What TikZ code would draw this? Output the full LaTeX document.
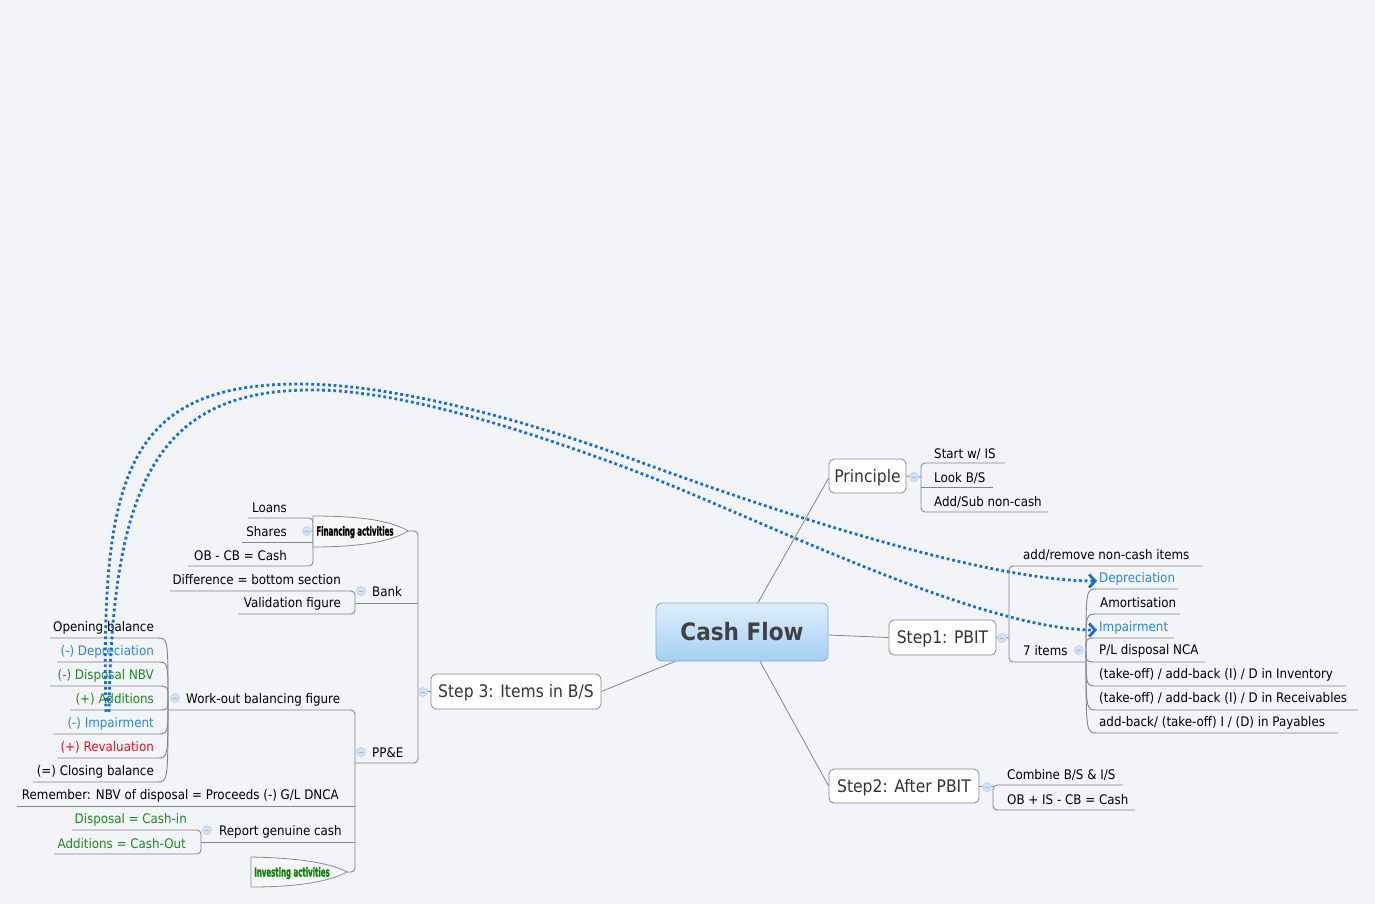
\documentclass[tikz,border=0pt]{standalone}
\usepackage{fontspec}
\setmainfont{DejaVu Sans}[FakeStretch=0.9]
\newfontfamily\condbold{DejaVu Sans}[FakeStretch=0.56, BoldFeatures={FakeBold=1.4}]
\usetikzlibrary{arrows.meta,calc}
\definecolor{bg}{HTML}{F2F4F8}
\definecolor{lnk}{HTML}{858585}
\definecolor{tblue}{HTML}{2A88E4}
\definecolor{tgreen}{HTML}{1E8A1E}
\definecolor{tred}{HTML}{E8141C}
\definecolor{arrowblue}{HTML}{1A6FCE}
\definecolor{cftop}{HTML}{DCEEFD}
\definecolor{cfbot}{HTML}{A6CFF5}
\definecolor{cfedge}{HTML}{86A9CB}
\definecolor{cftext}{HTML}{414141}
\definecolor{boxedge}{HTML}{8A8A8A}
\definecolor{topictext}{HTML}{333333}
\definecolor{circfill}{HTML}{D3E2F4}
\definecolor{circedge}{HTML}{B4CAE6}
\definecolor{circminus}{HTML}{98B6DC}
\definecolor{actfill}{HTML}{F7F7F7}
\definecolor{invgreen}{HTML}{0E7E0E}
\tikzset{
  lbl/.style={inner sep=0pt, font=\fontsize{13.2}{15}\selectfont, text height=9.6pt, text depth=0pt},
  L/.style={lbl, anchor=west},
  R/.style={lbl, anchor=east},
  ul/.style={draw=lnk, line width=0.9pt},
  brk/.style={ul, rounded corners=4pt},
  trunk/.style={draw=lnk, line width=0.8pt},
  topic/.style={draw=boxedge, fill=white, rounded corners=5pt, line width=0.8pt, inner sep=0pt,
    font=\fontsize{17.3}{19}\selectfont, text=topictext, text height=12.6pt, text depth=0pt},
  central/.style={draw=cfedge, top color=cftop, bottom color=cfbot, rounded corners=6pt, line width=0.8pt,
    inner sep=0pt, font=\bfseries\fontsize{24}{26}\selectfont, text=cftext, text height=17.5pt, text depth=0pt,
    minimum width=172pt, minimum height=58pt},
  collapse/.style={circle, minimum size=9pt, inner sep=0pt, fill=circfill, draw=circedge, line width=0.5pt,
    path picture={\draw[circminus, line width=0.8pt] ([xshift=-2.4pt]path picture bounding box.center) -- ([xshift=2.4pt]path picture bounding box.center);}},
  rel/.style={draw=arrowblue, line width=2.8pt, dash pattern=on 2.8pt off 2.8pt,
    -{Straight Barb[length=6pt,width=13pt,line width=2.8pt]}},
  actshape/.style={draw=boxedge, fill=actfill, line width=0.8pt},
  act/.style={inner sep=0pt, font=\condbold\bfseries\fontsize{12.5}{14}\selectfont, text height=9pt, text depth=0pt},
}
\begin{document}
\begin{tikzpicture}[x=1pt,y=-1pt]
\useasboundingbox (0,0) rectangle (1375,904);
\fill[bg] (0,0) rectangle (1375,904);

% ---------- main topics ----------
\node[central] (cf) at (742,632) {Cash Flow};
\node[topic, minimum width=77pt, minimum height=34pt] (princ) at (867.5,476) {Principle};
\node[topic, minimum width=107pt, minimum height=35pt] (step1) at (942.5,637.5) {Step1: PBIT};
\node[topic, minimum width=150pt, minimum height=34pt] (step2) at (904,786) {Step2: After PBIT};
\node[topic, minimum width=170pt, minimum height=35pt] (step3) at (516,691.5) {Step 3: Items in B/S};

\draw[trunk] ([xshift=16pt]cf.north) -- ([yshift=-2pt]princ.west);
\draw[trunk] ([yshift=-3pt]cf.east) -- (step1.west);
\draw[trunk] ([xshift=18pt]cf.south) -- (step2.west);
\draw[trunk] ([xshift=-67pt]cf.south) -- (step3.east);

% ---------- Principle ----------
\coordinate (pj) at (921,477);
\draw[brk] (1005,463) -- (921,463) -- (921,512) -- (1048,512);
\draw[ul] (921,487) -- (993,487);
\draw[ul] (princ.east) -- (pj);
\node[collapse] (pc) at (914,477) {};
\node[L] (t1) at (934,454) {Start w/ IS};
\node[L] (t2) at (934,478) {Look B/S};
\node[L] (t3) at (934,502) {Add/Sub non-cash};

% ---------- Step1 ----------
\coordinate (s1j) at (1009,638);
\draw[brk] (1203,566) -- (1009,566) -- (1009,662) -- (1085,662);
\draw[ul] (step1.east) -- (s1j);
\node[collapse] (s1c) at (1002,638) {};
\node[L] (s1a) at (1023,555) {add/remove non-cash items};
\node[L] (s1b) at (1023,651) {7 items};
\coordinate (sconv) at (1086,651);
\foreach \yy/\xe in {589/1178,614/1180,638/1174,662/1205,686/1346,710/1358,733/1338}{
  \draw[ul] (sconv) .. controls (1086,\yy) .. (1097,\yy) -- (\xe,\yy);
}
\node[collapse] (s1bc) at (1079,650) {};
\node[L, text=tblue] (i1) at (1099,578) {Depreciation};
\node[L] (i2) at (1100,603) {Amortisation};
\node[L, text=tblue] (i3) at (1099,627) {Impairment};
\node[L] (i4) at (1099,650) {P/L disposal NCA};
\node[L] (i5) at (1099,674) {(take-off) / add-back (I) / D in Inventory};
\node[L] (i6) at (1099,698) {(take-off) / add-back (I) / D in Receivables};
\node[L] (i7) at (1099,722) {add-back/ (take-off) I / (D) in Payables};

% ---------- Step2 ----------
\coordinate (s2j) at (993,786);
\draw[brk] (1123,785) -- (993,785) -- (993,810) -- (1135,810);
\draw[ul] (step2.east) -- (s2j);
\node[collapse] (s2c) at (987,787) {};
\node[L] (s2a) at (1007,775) {Combine B/S \& I/S};
\node[L] (s2b) at (1007,800) {OB + IS - CB = Cash};

% ---------- Step3 ----------
\coordinate (s3j) at (418,691.5);
\draw[brk] (408,531) -- (418,531) -- (418,763) -- (355,763);
\draw[brk] (418,603) -- (355,603);
\draw[ul] (step3.west) -- (s3j);
\node[collapse] (s3c) at (423,692) {};

% Financing activities
\draw[brk] (248,518) -- (313,518) -- (313,566) -- (188,566);
\draw[ul] (242,542) -- (313,542);
\draw[actshape] (313,516) .. controls (362,516) and (392,521) .. (408,531)
   .. controls (392,541) and (362,547) .. (313,547) -- cycle;
\node[act] (fin) at (355,531) {Financing activities};
\node[collapse] (finc) at (307,531) {};
\node[R] (f1) at (287,508) {Loans};
\node[R] (f2) at (287,532) {Shares};
\node[R] (f3) at (287,556) {OB - CB = Cash};

% Bank
\draw[brk] (170,591) -- (355,591) -- (355,614) -- (238,614);
\node[collapse] (bankc) at (361,591) {};
\node[L] (bank) at (372,592) {Bank};
\node[R] (b1) at (341,580) {Difference = bottom section};
\node[R] (b2) at (341,603) {Validation figure};

% PP&E
\draw[brk] (168,710) -- (355,710) -- (355,872) -- (347,872);
\draw[ul] (17,806) -- (355,806);
\draw[ul] (201,842) -- (355,842);
\node[collapse] (ppec) at (361,752) {};
\node[L] (ppe) at (372,753) {PP\&E};
\node[L] (wo) at (186,699) {Work-out balancing figure};
\node[collapse] (woc) at (175,698) {};
\node[R] (rem) at (339,795) {Remember: NBV of disposal = Proceeds (-) G/L DNCA};
\node[L] (rep) at (219,831) {Report genuine cash};
\node[collapse] (repc) at (207,830) {};

% Work-out children
\coordinate (wconv) at (168,700);
\foreach \yy/\xl in {638/50,662/57,686/50,710/70,734/53,758/57,782/33}{
  \draw[ul] (\xl,\yy) -- (157,\yy) .. controls (168,\yy) .. (wconv);
}
\node[R] (w1) at (154,627) {Opening balance};
\node[R, text=tblue] (w2) at (154,651) {(-) Depreciation};
\node[R, text=tgreen] (w3) at (154,675) {(-) Disposal NBV};
\node[R, text=tgreen] (w4) at (154,699) {(+) Additions};
\node[R, text=tblue] (w5) at (154,723) {(-) Impairment};
\node[R, text=tred] (w6) at (154,747) {(+) Revaluation};
\node[R] (w7) at (154,771) {(=) Closing balance};

% Report genuine cash children
\draw[brk] (72,830) -- (201,830) -- (201,854) -- (54,854);
\node[R, text=tgreen] (r1) at (187,819) {Disposal = Cash-in};
\node[R, text=tgreen] (r2) at (186,844) {Additions = Cash-Out};

% Investing activities
\draw[actshape] (251,857) .. controls (300,858) and (330,863) .. (347,872)
   .. controls (330,881) and (300,887) .. (251,887) -- cycle;
\node[act, text=invgreen] (inv) at (292,872) {Investing activities};

% ---------- relationships ----------
\coordinate (relA) at (106,712);
\coordinate (relB) at (109,712);
\coordinate (dep) at (1097,581);
\coordinate (imp) at (1097,630);
\draw[rel] (relA) .. controls (100,470) and (130,384) .. (300,384)
   .. controls (400,384) and (540,425) .. (640,462)
   .. controls (760,506) and (980,581) .. (dep);
\draw[rel] (relB) .. controls (112,480) and (160,392) .. (307,390)
   .. controls (400,388) and (540,435) .. (640,473)
   .. controls (760,519) and (980,630) .. (imp);
\end{tikzpicture}
\end{document}
